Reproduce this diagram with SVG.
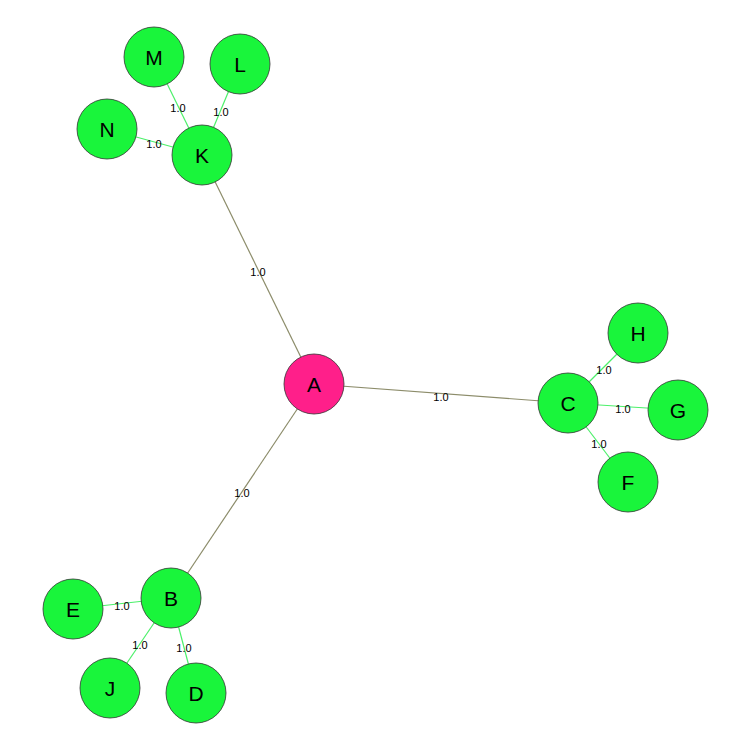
<svg xmlns="http://www.w3.org/2000/svg" width="750" height="750" viewBox="0 0 750 750">
<style>
.n{fill:#19f53b;stroke:#333;stroke-width:0.8}
.r{fill:#ff1f8a;stroke:#333;stroke-width:0.8}
.t{font-family:"Liberation Sans",Arial,sans-serif;font-size:21px;text-anchor:middle;dominant-baseline:central;fill:#000}
.el{font-family:"Liberation Sans",Arial,sans-serif;font-size:11px;text-anchor:middle;dominant-baseline:central;fill:#000}
.e1{stroke:#8c8c6a;stroke-width:1.2}
.e2{stroke:#4cf06a;stroke-width:1.2}
</style>
<rect width="750" height="750" fill="#fff"/>
<g id="connectors">
<line class="e1" x1="314" y1="384" x2="202" y2="155"/>
<line class="e1" x1="314" y1="384" x2="568" y2="403"/>
<line class="e1" x1="314" y1="384" x2="171" y2="598"/>
<line class="e2" x1="202" y1="155" x2="154" y2="57"/>
<line class="e2" x1="202" y1="155" x2="240" y2="64"/>
<line class="e2" x1="202" y1="155" x2="107" y2="129"/>
<line class="e2" x1="568" y1="403" x2="638" y2="333"/>
<line class="e2" x1="568" y1="403" x2="678" y2="410"/>
<line class="e2" x1="568" y1="403" x2="628" y2="482"/>
<line class="e2" x1="171" y1="598" x2="73" y2="609"/>
<line class="e2" x1="171" y1="598" x2="110" y2="688"/>
<line class="e2" x1="171" y1="598" x2="196" y2="693"/>
<text class="el" x="258" y="272">1.0</text>
<text class="el" x="441" y="397">1.0</text>
<text class="el" x="242" y="493">1.0</text>
<text class="el" x="178" y="108">1.0</text>
<text class="el" x="221" y="112">1.0</text>
<text class="el" x="154" y="144">1.0</text>
<text class="el" x="604" y="370">1.0</text>
<text class="el" x="623" y="409">1.0</text>
<text class="el" x="599" y="444">1.0</text>
<text class="el" x="122" y="606">1.0</text>
<text class="el" x="140" y="645">1.0</text>
<text class="el" x="184" y="648">1.0</text>
</g>
<g id="A"><circle class="r" cx="314" cy="384" r="30"/><text class="t" x="314" y="384">A</text></g>
<g id="K"><circle class="n" cx="202" cy="155" r="30"/><text class="t" x="202" y="155">K</text></g>
<g id="M"><circle class="n" cx="154" cy="57" r="30"/><text class="t" x="154" y="57">M</text></g>
<g id="L"><circle class="n" cx="240" cy="64" r="30"/><text class="t" x="240" y="64">L</text></g>
<g id="N"><circle class="n" cx="107" cy="129" r="30"/><text class="t" x="107" y="129">N</text></g>
<g id="C"><circle class="n" cx="568" cy="403" r="30"/><text class="t" x="568" y="403">C</text></g>
<g id="H"><circle class="n" cx="638" cy="333" r="30"/><text class="t" x="638" y="333">H</text></g>
<g id="G"><circle class="n" cx="678" cy="410" r="30"/><text class="t" x="678" y="410">G</text></g>
<g id="F"><circle class="n" cx="628" cy="482" r="30"/><text class="t" x="628" y="482">F</text></g>
<g id="B"><circle class="n" cx="171" cy="598" r="30"/><text class="t" x="171" y="598">B</text></g>
<g id="E"><circle class="n" cx="73" cy="609" r="30"/><text class="t" x="73" y="609">E</text></g>
<g id="J"><circle class="n" cx="110" cy="688" r="30"/><text class="t" x="110" y="688">J</text></g>
<g id="D"><circle class="n" cx="196" cy="693" r="30"/><text class="t" x="196" y="693">D</text></g>
</svg>
